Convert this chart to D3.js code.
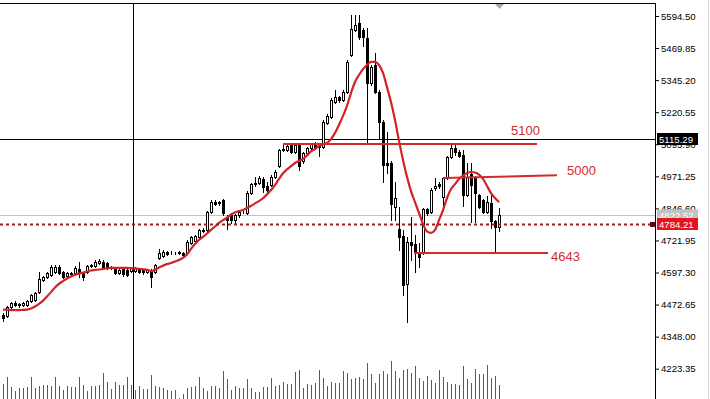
<!DOCTYPE html>
<html>
<head>
<meta charset="utf-8">
<script src="https://cdn.jsdelivr.net/npm/d3@7"></script>
<style>
  html, body { margin: 0; padding: 0; background: #fff; overflow: hidden; }
  svg { display: block; }
</style>
</head>
<body>
<div id="chart"></div>
<script>
// chart size
const w = 710;
const h = 399;
const axisX = 655;                                   // right price axis

// candles, oldest first
const open = [4432,4428,4464,4480,4474,4472,4471,4487,4490,4523,
  4569,4581,4587,4600,4617,4600,4583,4594,4596,4610,
  4596,4599,4622,4622,4636,4639,4635,4620,4612,4595,
  4610,4606,4602,4604,4610,4606,4598,4604,4600,4652,
  4662,4676,4672,4674,4672,4672,4672,4713,4721,4736,
  4760,4762,4833,4872,4866,4879,4814,4821,4801,4821,
  4832,4830,4908,4940,4945,4961,4935,4937,4970,5011,
  5073,5073,5093,5067,5093,5030,5062,5081,5097,5086,
  5086,5180,5203,5261,5278,5268,5300,5443,5540,5566,
  5540,5508,5333,5404,5300,5183,5023,5023,4852,4766,
  4739,4553,4717,4708,4678,4674,4844,4834,4926,4940,
  4892,4965,5047,5082,5067,5054,4898,4979,4965,4898,
  4879,4833,4867,4797,4775];
const high = [4440,4467,4484,4486,4480,4482,4492,4514,4522,4600,
  4584,4600,4625,4628,4625,4605,4600,4600,4622,4640,
  4600,4626,4632,4644,4650,4645,4640,4624,4618,4614,
  4615,4612,4620,4620,4616,4610,4612,4610,4630,4689,
  4684,4680,4680,4678,4680,4677,4722,4740,4744,4768,
  4772,4838,4880,4880,4876,4884,4820,4826,4826,4838,
  4838,4913,4946,4969,4972,4968,4950,4975,4996,5078,
  5093,5097,5100,5100,5100,5067,5086,5102,5103,5100,
  5190,5212,5274,5307,5284,5306,5422,5598,5598,5598,
  5546,5547,5403,5451,5307,5190,5145,5030,4950,4853,
  4762,4736,4814,4743,4712,4850,4850,4924,4965,4948,
  4970,5052,5093,5093,5072,5073,5023,5023,4972,4903,
  4885,4895,4906,4802,4850];
const low = [4409,4424,4459,4467,4465,4468,4468,4484,4488,4519,
  4566,4577,4583,4596,4590,4575,4578,4585,4592,4578,
  4570,4595,4618,4618,4632,4615,4612,4612,4590,4590,
  4585,4582,4598,4600,4596,4592,4594,4542,4596,4648,
  4658,4666,4668,4668,4668,4660,4668,4709,4717,4732,
  4755,4758,4828,4858,4858,4820,4765,4790,4790,4815,
  4828,4826,4904,4935,4940,4912,4912,4932,4966,5008,
  5068,5068,5062,5062,4996,5024,5058,5077,5076,5050,
  5082,5176,5199,5256,5262,5264,5296,5438,5535,5507,
  5478,5106,5327,5295,5120,4950,4984,4801,4801,4685,
  4510,4406,4646,4600,4620,4670,4822,4830,4918,4925,
  4860,4960,5042,5054,5046,4856,4893,4793,4793,4848,
  4828,4829,4770,4673,4758];
const close = [4420,4463,4480,4471,4470,4477,4488,4510,4518,4571,
  4580,4595,4620,4620,4594,4581,4596,4590,4613,4596,
  4578,4622,4626,4639,4641,4620,4617,4617,4596,4608,
  4590,4588,4614,4614,4600,4598,4608,4581,4626,4672,
  4678,4671,4675,4672,4676,4664,4717,4736,4739,4762,
  4764,4833,4872,4863,4872,4827,4801,4801,4821,4833,
  4834,4908,4940,4946,4965,4930,4918,4970,4989,5073,
  5078,5089,5067,5093,5011,5062,5081,5097,5081,5093,
  5183,5206,5268,5278,5268,5300,5417,5543,5559,5512,
  5512,5333,5397,5300,5183,5015,5015,4863,4887,4735,
  4548,4717,4704,4678,4659,4844,4828,4918,4933,4932,
  4965,5047,5081,5067,5052,4898,4970,4937,4906,4853,
  4833,4872,4797,4775,4822];

// moving average (red curve), read per candle
const ma = [4453,4453,4451,4451,4451,4452,4453,4457,4465,4475,
  4488,4504,4521,4539,4553,4564,4574,4582,4588,4593,
  4597,4601,4605,4607,4609,4611,4613,4615,4615,4615,
  4615,4615,4614,4613,4612,4610,4608,4603,4608,4617,
  4624,4630,4634,4640,4646,4654,4667,4689,4708,4724,
  4736,4749,4763,4776,4790,4801,4811,4823,4831,4836,
  4840,4848,4856,4866,4875,4886,4901,4918,4937,4961,
  4983,4998,5011,5023,5031,5039,5052,5068,5077,5089,
  5095,5101,5116,5140,5171,5206,5245,5295,5338,5365,
  5388,5404,5416,5416,5404,5373,5318,5260,5190,5109,
  5035,4969,4914,4871,4829,4786,4757,4751,4763,4801,
  4840,4887,4922,4941,4961,4974,4984,4988,4986,4978,
  4961,4934,4906,4887,4871];

// tick volume
const volume = [1500,2200,1200,800,1100,1100,1200,2200,1100,1300,
  1400,1400,1300,2200,1300,900,1300,1200,1200,2200,
  1400,800,1300,1300,1400,2600,1700,1000,1700,1400,
  1400,2200,1400,900,1300,1000,1000,2400,1300,1200,
  1100,900,800,900,100,500,1100,1200,1300,2200,
  1100,800,1300,1300,1100,2800,2000,900,1300,1100,
  1100,2000,1100,700,700,1200,1200,2100,1300,1400,
  1700,1500,1500,2700,2900,1100,1500,1400,1600,2900,
  2100,1300,1700,1600,1600,2800,2600,2000,2100,2200,
  2000,3600,2500,1600,2500,2800,2500,3800,2800,2100,
  2900,3000,2600,3300,2100,1800,2300,1900,1600,2900,
  2200,1700,1500,1500,1400,3300,2000,1600,3000,2500,
  2500,3400,2100,2300,1400];

// price axis labels
const tickLabels = [5594.50, 5469.85, 5345.20, 5220.55, 5095.90, 4971.25,
  4846.60, 4721.95, 4597.30, 4472.65, 4348.00, 4223.35];

// drawn levels: [price at start, price at end, first bar, last bar, text, text bar, text price]
const levels = [
  [5097, 5097, 70, 133.5, "5100", 127, 5132],
  [4965, 4975, 110, 138.5, "5000", 141, 4976],
  [4673, 4673, 102.75, 136.25, "4643", 137, 4642]
];

const crossBar = 32.5;
const crossPrice = 5115.29;
const bidPrice = 4784.21;
const askPrice = 4822.52;

const x = d3.scaleLinear().domain([0, 124]).range([3, 499]);
const y = d3.scaleLinear().domain([4223.35, 5594.50]).range([368.7, 16]);
const vy = d3.scaleLinear().domain([0, 4000]).range([h, h - 40]);

const fmt = d3.format(".2f");
const px = v => Math.round(v) + 0.5;

let svg = d3.select("#chart")
  .append("svg")
  .attr("width", w)
  .attr("height", h)
  .style("font-family", "'Liberation Sans', Arial, sans-serif");

svg.append("rect").attr("width", w).attr("height", h).attr("fill", "#fff");

// window edge on the right
svg.append("line")
  .attr("x1", 708.5).attr("x2", 708.5).attr("y1", 0).attr("y2", h)
  .attr("stroke", "#d4d4d4");

// volume bars
const bars = d3.range(open.length);
svg.append("g").selectAll("line").data(bars).join("line")
  .attr("x1", i => x(i) + 0.5).attr("x2", i => x(i) + 0.5)
  .attr("y1", h).attr("y2", i => Math.round(vy(volume[i])))
  .attr("stroke", "#2b7a2b")
  .attr("stroke-width", 1);

// ask line (grey)
svg.append("line")
  .attr("x1", 0).attr("x2", axisX).attr("y1", px(y(askPrice))).attr("y2", px(y(askPrice)))
  .attr("stroke", "#c4c4c4");

// crosshair
svg.append("line")
  .attr("x1", px(x(crossBar))).attr("x2", px(x(crossBar))).attr("y1", 3).attr("y2", h)
  .attr("stroke", "#000");
svg.append("line")
  .attr("x1", 0).attr("x2", axisX).attr("y1", px(y(crossPrice))).attr("y2", px(y(crossPrice)))
  .attr("stroke", "#000");

// candles
let candles = svg.append("g").selectAll("g").data(bars).join("g");
candles.append("line")
  .attr("x1", i => x(i) + 0.5).attr("x2", i => x(i) + 0.5)
  .attr("y1", i => Math.round(y(high[i]))).attr("y2", i => Math.round(y(low[i])) + 1)
  .attr("stroke", "#000");
candles.append("rect")
  .attr("x", i => x(i) - 0.5)
  .attr("y", i => px(y(Math.max(open[i], close[i]))))
  .attr("width", 2)
  .attr("height", i => Math.max(0, Math.round(y(Math.min(open[i], close[i]))) - Math.round(y(Math.max(open[i], close[i])))))
  .attr("fill", i => close[i] >= open[i] ? "#fff" : "#000")
  .attr("stroke", "#000");

// moving average
const maLine = d3.line()
  .x((d, i) => x(i))
  .y(d => y(d))
  .curve(d3.curveMonotoneX);
svg.append("path")
  .datum(ma)
  .attr("d", maLine)
  .attr("fill", "none")
  .attr("stroke", "#d22329")
  .attr("stroke-width", 2.2);

// hand drawn levels
svg.append("g").selectAll("line").data(levels).join("line")
  .attr("x1", d => x(d[2])).attr("x2", d => x(d[3]))
  .attr("y1", d => y(d[0])).attr("y2", d => y(d[1]))
  .attr("stroke", "#d42a2e")
  .attr("stroke-width", 2);
svg.append("g").selectAll("text").data(levels).join("text")
  .attr("x", d => x(d[5]))
  .attr("y", d => y(d[6]))
  .attr("fill", "#d42a2e")
  .attr("font-size", 13)
  .text(d => d[4]);

// bid line, dotted
svg.append("line")
  .attr("x1", 0).attr("x2", axisX - 3).attr("y1", y(bidPrice)).attr("y2", y(bidPrice))
  .attr("stroke", "#9c1c1c")
  .attr("stroke-width", 2)
  .attr("stroke-dasharray", "3,3");
svg.append("rect")
  .attr("x", axisX - 5).attr("y", y(bidPrice) - 2.5).attr("width", 5).attr("height", 5)
  .attr("fill", "#5a0a0a");

// top border and price axis line
svg.append("line")
  .attr("x1", 0).attr("x2", axisX).attr("y1", 3.5).attr("y2", 3.5)
  .attr("stroke", "#000");
svg.append("line")
  .attr("x1", axisX + 0.5).attr("x2", axisX + 0.5).attr("y1", 3).attr("y2", h)
  .attr("stroke", "#000");

// shift marker
const sx = x(124) + 0.5;
svg.append("path")
  .attr("d", `M${sx - 4.5},4 L${sx + 4.5},4 L${sx},9 Z`)
  .attr("fill", "#a8a8a8");

// price axis
let axis = svg.append("g")
  .attr("transform", `translate(${axisX},0)`)
  .call(d3.axisRight(y).tickValues(tickLabels).tickFormat(fmt).tickSize(4).tickPadding(2));
axis.select(".domain").remove();
axis.selectAll("text")
  .attr("font-family", "'Liberation Sans', Arial, sans-serif")
  .attr("font-size", 9.6)
  .attr("fill", "#000");

// price tags on the axis
function tag(price, bg, fg, hgt) {
  const cy = Math.round(y(price));
  svg.append("rect")
    .attr("x", axisX + 2).attr("y", cy - hgt / 2).attr("width", 41).attr("height", hgt)
    .attr("fill", bg);
  svg.append("text")
    .attr("x", axisX + 4).attr("y", cy + 4)
    .attr("fill", fg)
    .attr("font-size", 9.6)
    .text(fmt(price));
}
tag(askPrice, "#c2c2c2", "#fff", 11);
tag(bidPrice, "#e8141b", "#fff", 12);
tag(crossPrice, "#000", "#fff", 12);
</script>
</body>
</html>
